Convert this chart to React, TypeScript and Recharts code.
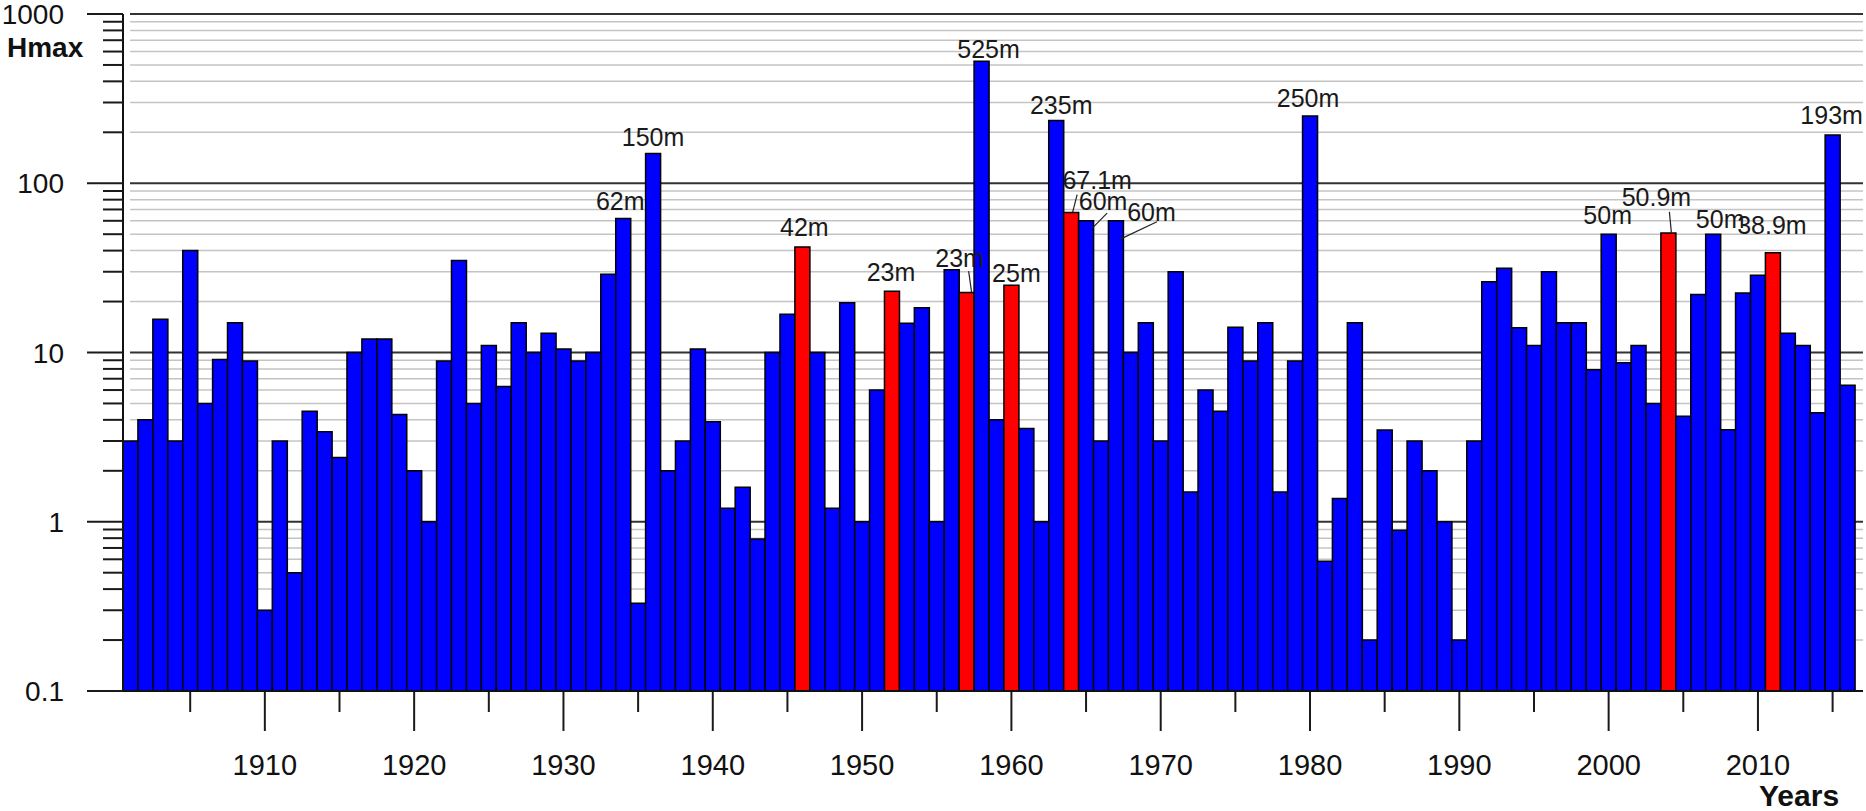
import React from 'react';
import { BarChart, Bar, XAxis, YAxis, CartesianGrid, Cell, LabelList, Customized } from 'recharts';

// ---- data ----
const YEARS: number[] = Array.from({ length: 116 }, (_, i) => 1901 + i);

const HMAX: number[] = [
  3, 4, 15.7, 3, 40, 5, 9.1, 15, 8.9, 0.3, // 1901-1910
  3, 0.5, 4.5, 3.4, 2.4, 10, 12, 12, 4.3, 2, // 1911-1920
  1, 8.9, 35, 5, 11, 6.3, 15, 10, 13, 10.5, // 1921-1930
  8.9, 10, 29, 62, 0.33, 150, 2, 3, 10.5, 3.9, // 1931-1940
  1.2, 1.6, 0.79, 10, 16.8, 42, 10, 1.2, 19.7, 1, // 1941-1950
  6, 23, 14.9, 18.4, 1, 30.8, 22.6, 525, 4, 25, // 1951-1960
  3.56, 1, 235, 67.1, 60, 3, 60, 10, 15, 3, // 1961-1970
  30, 1.5, 6, 4.5, 14.1, 8.9, 15, 1.5, 8.9, 250, // 1971-1980
  0.585, 1.37, 15, 0.2, 3.48, 0.89, 3, 2, 1, 0.2, // 1981-1990
  3, 26.2, 31.5, 14, 11, 30, 15, 15, 7.9, 50, // 1991-2000
  8.7, 11, 5, 50.9, 4.2, 22, 50, 3.5, 22.5, 28.6, // 2001-2010
  38.9, 13, 11, 4.4, 193, 6.4, // 2011-2016
];

const RED_YEARS: number[] = [1946, 1952, 1957, 1960, 1964, 2004, 2011];

const LABEL_YEARS: number[] = [1934, 1936, 1946, 1952, 1957, 1958, 1960, 1963, 1964, 1965, 1967, 1980, 2000, 2004, 2007, 2011, 2015];
const LABEL_TEXTS: string[] = ['62m', '150m', '42m', '23m', '23m', '525m', '25m', '235m', '67.1m', '60m', '60m', '250m', '50m', '50.9m', '50m', '38.9m', '193m'];

const X_TICK_LABELS: number[] = [1910, 1920, 1930, 1940, 1950, 1960, 1970, 1980, 1990, 2000, 2010];
const Y_MAJOR: number[] = [0.1, 1, 10, 100, 1000];
const Y_TICK_LABELS: string[] = ['0.1', '1', '10', '100', '1000'];

// ---- label placement (layout, relative to bar centre / bar top) ----
const LABEL_LAYOUT: Record<number, { dx: number; dy: number; leader?: number[] }> = {
  1934: { dx: -3, dy: -17.6 },
  1936: { dx: 0, dy: -16 },
  1946: { dx: 2, dy: -19.6 },
  1952: { dx: -1, dy: -19 },
  1957: { dx: -7, dy: -34.8, leader: [2, -21.5, 5, 0] },
  1958: { dx: 7, dy: -12.6 },
  1960: { dx: 5, dy: -12 },
  1963: { dx: 5, dy: -15.6 },
  1964: { dx: 26, dy: -33, leader: [6, -18, 1.5, -0.5] },
  1965: { dx: 17, dy: -20, leader: [21, -7.6, 6, 7.6] },
  1967: { dx: 35.5, dy: -9, leader: [41, 1, 4.4, 18.3] },
  1980: { dx: -2, dy: -18 },
  2000: { dx: -1, dy: -18.7 },
  2004: { dx: -12, dy: -36, leader: [1, -21, 3, 0] },
  2007: { dx: 7, dy: -15.5 },
  2011: { dx: -1, dy: -27.6 },
  2015: { dx: -1, dy: -19.6 },
};

const FONT = '"Liberation Sans", Arial, sans-serif';

const Y_TICKS: number[] = (() => {
  const out: number[] = [];
  for (let d = 0; d < Y_MAJOR.length - 1; d++) {
    for (let k = 1; k <= 9; k++) out.push(+(Y_MAJOR[d] * k).toPrecision(6));
  }
  out.push(Y_MAJOR[Y_MAJOR.length - 1]);
  return out;
})();

const data = YEARS.map((year, i) => ({ year, hmax: HMAX[i] }));

const isMajor = (v: number) => {
  const lg = Math.log10(v);
  return Math.abs(lg - Math.round(lg)) < 1e-6;
};

const YTick = (props: any) => {
  const { x, y, payload } = props;
  const v = Number(payload.value);
  const major = isMajor(v);
  const idx = Y_MAJOR.findIndex((m) => Math.abs(m - v) < 1e-9);
  return (
    <g>
      <line x1={x - (major ? 36 : 20)} x2={x} y1={y} y2={y} stroke="#1a1a1a" strokeWidth={2} />
      {major && idx >= 0 && (
        <text x={x - 59} y={y + 10} textAnchor="end" fontSize={28} fontFamily={FONT} fill="#111">
          {Y_TICK_LABELS[idx]}
        </text>
      )}
    </g>
  );
};

const XTick = (props: any) => {
  const { x, y, payload } = props;
  const yr = Number(payload.value);
  if (yr % 5 !== 0) return <g />;
  const major = yr % 10 === 0;
  return (
    <g>
      <line x1={x} x2={x} y1={y + 1} y2={y + (major ? 40 : 21)} stroke="#1a1a1a" strokeWidth={2} />
      {X_TICK_LABELS.includes(yr) && (
        <text x={x} y={y + 84} textAnchor="middle" fontSize={29} fontFamily={FONT} fill="#111">
          {yr}
        </text>
      )}
    </g>
  );
};

const renderLabel = (props: any) => {
  const vb = props.viewBox || {};
  const x = props.x ?? vb.x;
  const y = props.y ?? vb.y;
  const width = props.width ?? vb.width;
  const yr = Number(props.value);
  const li = LABEL_YEARS.indexOf(yr);
  if (li < 0 || x == null) return <g />;
  const lay = LABEL_LAYOUT[yr] || { dx: 0, dy: -17 };
  const cx = x + width / 2;
  const top = y;
  return (
    <g>
      {lay.leader && (
        <line
          x1={cx + lay.leader[0]}
          y1={top + lay.leader[1]}
          x2={cx + lay.leader[2]}
          y2={top + lay.leader[3]}
          stroke="#222"
          strokeWidth={1.2}
        />
      )}
      <text x={cx + lay.dx} y={top + lay.dy + 9} textAnchor="middle" fontSize={25} fontFamily={FONT} fill="#1a1a1a">
        {LABEL_TEXTS[li]}
      </text>
    </g>
  );
};

const GridLine = (p: any) => {
  const major = p.index % 9 === 0;
  return (
    <line
      key={p.key}
      x1={p.x1 + 7}
      x2={p.x2}
      y1={p.y1}
      y2={p.y2}
      stroke={major ? '#333' : '#c4c4c4'}
      strokeWidth={major ? 2 : 1.5}
    />
  );
};

const Titles = () => (
  <g>
    <text x={7} y={57} fontSize={28} fontWeight="bold" fontFamily={FONT} fill="#111">
      Hmax
    </text>
    <text x={1759} y={806} fontSize={30} fontWeight="bold" fontFamily={FONT} fill="#111">
      Years
    </text>
  </g>
);

export default function App() {
  return (
    <div style={{ position: 'absolute', left: 0, top: 0, width: 1866, height: 811, background: '#fff' }}>
      <BarChart
        width={1866}
        height={811}
        data={data}
        margin={{ top: 14, right: 3, bottom: 0, left: 0 }}
        barCategoryGap={0}
        barGap={0}
      >
        <CartesianGrid vertical={false} horizontal={GridLine} />
        <XAxis
          dataKey="year"
          interval={0}
          tick={<XTick />}
          tickLine={false}
          tickSize={0}
          tickMargin={0}
          height={120}
          padding={{ left: 0, right: 8 }}
          axisLine={{ stroke: '#111', strokeWidth: 2 }}
        />
        <YAxis
          type="number"
          scale="log"
          domain={[0.1, 1000]}
          ticks={Y_TICKS}
          interval={0}
          allowDataOverflow
          tick={<YTick />}
          tickLine={false}
          tickSize={0}
          tickMargin={0}
          width={123}
          axisLine={{ stroke: '#111', strokeWidth: 2 }}
        />
        <YAxis
          yAxisId="right"
          orientation="right"
          width={0}
          tick={false}
          tickLine={false}
          domain={[0, 1]}
          axisLine={{ stroke: '#111', strokeWidth: 2 }}
        />
        <Bar dataKey="hmax" stroke="#000" strokeWidth={1.5} isAnimationActive={false}>
          {data.map((d) => (
            <Cell key={d.year} fill={RED_YEARS.includes(d.year) ? '#ff0000' : '#0000ff'} />
          ))}
          <LabelList dataKey="year" content={renderLabel} />
        </Bar>
        <Customized component={Titles} />
      </BarChart>
    </div>
  );
}
